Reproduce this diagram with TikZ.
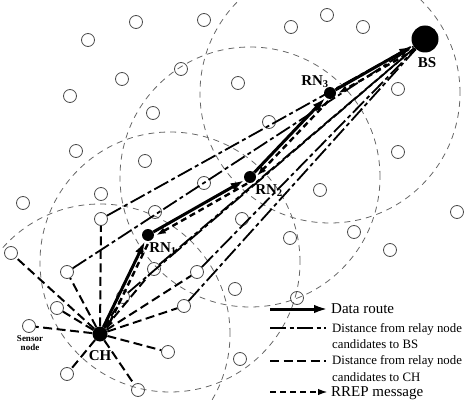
\documentclass[tikz,border=0pt]{standalone}
\usepackage{fontspec}
\setmainfont{Liberation Serif}
\usetikzlibrary{arrows.meta,positioning}

\tikzset{
	sensor/.style={shape=circle,draw=black!70,line width=0.8pt,minimum size=13pt,inner sep=0pt},
	relay/.style={shape=circle,fill=black,minimum size=12pt,inner sep=0pt},
	radiorange/.style={draw=black!60,line width=0.8pt,dash pattern=on 6pt off 5pt},
	toch/.style={line width=2pt,dash pattern=on 9pt off 4.5pt},
	tobs/.style={line width=1.8pt,dash pattern=on 16pt off 3.5pt on 4pt off 3.5pt},
	dataroute/.style={line width=3pt,-{Latex[length=14pt,width=8.5pt]}},
	rrep/.style={line width=2.4pt,dash pattern=on 6pt off 4pt,-{Latex[length=10pt,width=6.5pt]}},
	lbl/.style={font=\fontsize{15}{15}\selectfont\bfseries,inner sep=0pt},
	legtext/.style={font=\fontsize{12.8}{16.5}\selectfont,anchor=west,inner sep=0pt,align=left},
	legbig/.style={font=\fontsize{15}{15}\selectfont,anchor=west,inner sep=0pt},
}

\begin{document}
\begin{tikzpicture}[x=1pt,y=-1pt]
	\useasboundingbox (0,0) rectangle (474,401);
	\clip (0,0) rectangle (474,401);
	% communication ranges
	\draw[radiorange] (100,334) circle (130pt);
	\draw[radiorange] (170,262) circle (130pt);
	\draw[radiorange] (250,177) circle (130pt);
	\draw[radiorange] (330,93) circle (130pt);
	% sensor nodes
	\node[sensor](s1) at (136,22) {};
	\node[sensor](s2) at (204,20) {};
	\node[sensor](s3) at (88,40) {};
	\node[sensor](s4) at (181,69) {};
	\node[sensor](s5) at (122,79) {};
	\node[sensor](s6) at (70,96) {};
	\node[sensor](s7) at (153,113) {};
	\node[sensor](s8) at (76,151) {};
	\node[sensor](s9) at (145,161) {};
	\node[sensor](s10) at (204,183) {};
	\node[sensor](s11) at (101,194) {};
	\node[sensor](s12) at (23,203) {};
	\node[sensor](s13) at (238,83) {};
	\node[sensor](s14) at (327,15) {};
	\node[sensor](s15) at (291,27) {};
	\node[sensor](s16) at (363,27) {};
	\node[sensor](s17) at (398,89) {};
	\node[sensor](s18) at (269,122) {};
	\node[sensor](s19) at (398,152) {};
	\node[sensor](s20) at (320,190) {};
	\node[sensor](s21) at (101,219) {};
	\node[sensor](s22) at (155,212) {};
	\node[sensor](s23) at (11,253) {};
	\node[sensor](s24) at (67,272) {};
	\node[sensor](s25) at (154,269) {};
	\node[sensor](s26) at (197,272) {};
	\node[sensor](s27) at (235,289) {};
	\node[sensor](s28) at (57,308) {};
	\node[sensor](s29) at (123,297) {};
	\node[sensor](s30) at (184,306) {};
	\node[sensor](s31) at (29,326) {};
	\node[sensor](s32) at (168,352) {};
	\node[sensor](s33) at (67,374) {};
	\node[sensor](s34) at (138,390) {};
	\node[sensor](s35) at (242,219) {};
	\node[sensor](s36) at (290,238) {};
	\node[sensor](s37) at (354,232) {};
	\node[sensor](s38) at (390,250) {};
	\node[sensor](s39) at (457,212) {};
	\node[sensor](s40) at (297,298) {};
	\node[sensor](s41) at (240,359) {};
	% cluster head, relays and base station
	\node[relay,minimum size=15pt](CH) at (100,334) {};
	\node[relay](RN1) at (148,235) {};
	\node[relay](RN2) at (250,177) {};
	\node[relay](RN3) at (330,93) {};
	\node[relay,minimum size=27pt](BS) at (425,39) {};
	\node[lbl] at (100,356) {CH};
	\node[lbl] at (163,249) {RN\textsubscript{1}};
	\node[lbl] at (269,191) {RN\textsubscript{2}};
	\node[lbl] at (315,82) {RN\textsubscript{3}};
	\node[lbl] at (427,63) {BS};
	\node[font=\fontsize{9}{8.5}\selectfont\bfseries,align=center,inner sep=0pt] at (30,343) {Sensor\\node};
	% distances to CH
	\path[toch](CH) edge (s23)
		edge (s24)
		edge (s21)
		edge (s28)
		edge (s31)
		edge (s33)
		edge (s34)
		edge (s32)
		edge (s29)
		edge (s25)
		edge (s30)
		edge (s26);
	% distances to BS
	\path[tobs](s21) edge (BS);
	\path[tobs](s24) edge (BS);
	\path[tobs](s29) edge (BS);
	\path[tobs](s25) edge (BS);
	\path[tobs](s26) edge (BS);
	\path[tobs](s30) edge (BS);
	% data route
	\path[dataroute](CH) edge (RN1);
	\path[dataroute](RN1) edge (RN2);
	\path[dataroute](RN2) edge (RN3);
	\path[dataroute](RN3) edge (BS);
	% RREP message
	\begin{scope}[transform canvas={xshift=2.5pt,yshift=-3.5pt}]
		\path[rrep](BS) edge (RN3);
		\path[rrep](RN3) edge (RN2);
		\path[rrep](RN2) edge (RN1);
		\path[rrep](RN1) edge (CH);
	\end{scope}
	% legend
	\coordinate(l1a) at (270,309);
	\coordinate(l1b) at (328,309);
	\coordinate(l2a) at (270,328);
	\coordinate(l2b) at (326,328);
	\coordinate(l3a) at (270,361);
	\coordinate(l3b) at (326,361);
	\coordinate(l4a) at (270,392);
	\coordinate(l4b) at (328,392);
	\draw[dataroute](l1a) -- (l1b);
	\draw[tobs](l2a) -- (l2b);
	\draw[toch](l3a) -- (l3b);
	\draw[rrep](l4a) -- (l4b);
	\node[legbig] at (331,309) {Data route};
	\node[legtext] at (332,336) {Distance from relay node\\candidates to BS};
	\node[legtext] at (332,368.5) {Distance from relay node\\candidates to CH};
	\node[legbig] at (331,393) {RREP message};
\end{tikzpicture}
\end{document}
